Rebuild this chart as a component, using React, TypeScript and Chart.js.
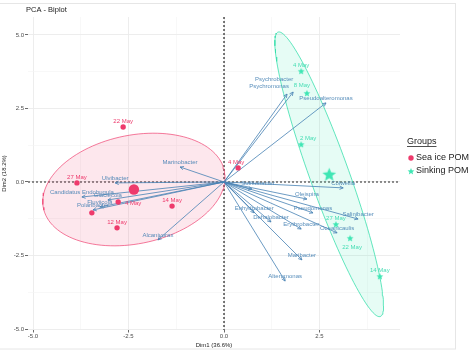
import React, { useEffect, useRef } from "react";
import { Chart, registerables } from "chart.js";

Chart.register(...registerables);

const FONT = "'Liberation Sans', Arial, Helvetica, sans-serif";

const chartTitle = "PCA - Biplot";
const xAxisTitle = "Dim1 (36.6%)";
const yAxisTitle = "Dim2 (18.2%)";
const legendTitle = "Groups";
const groupNames = ["Sea ice POM", "Sinking POM"];

// Individuals: Sea ice POM
const seaIceLabels = ["22 May", "27 May", "4 May", "", "14 May", "12 May", "4 May"];
const seaIceDim1 = [-2.64, -3.85, -2.77, -3.46, -1.36, -2.8, 0.37];
const seaIceDim2 = [1.87, -0.03, -0.68, -1.05, -0.82, -1.56, 0.48];

// Individuals: Sinking POM
const sinkingLabels = ["4 May", "8 May", "2 May", "27 May", "22 May", "14 May"];
const sinkingDim1 = [2.02, 2.17, 2.02, 2.93, 3.3, 4.08];
const sinkingDim2 = [3.78, 3.03, 1.29, -1.43, -1.9, -3.2];

// Variables (arrows)
const variableNames = [
  "Marinobacter", "Ulvibacter", "Candidatus Endobugula", "Glaciecola", "Polaribacter",
  "Fluviicola", "Alcanivorax", "Psychrobacter", "Psychromonas", "Pseudoalteromonas",
  "Sulfitobacter", "Colwellia", "Oleispira", "Pseudomonas", "Salinibacter",
  "Oceanicaulis", "Erythrobacter", "Dehalobacter", "Enhydrobacter", "Maribacter", "Alteromonas",
];
const variableDim1 = [-1.15, -2.85, -3.72, -3.04, -3.43, -3.25, -1.73, 1.65, 1.81, 2.67, 0.73, 3.12, 2.17, 2.33, 3.51, 2.96, 2.02, 1.23, 0.79, 2.04, 1.6];
const variableDim2 = [0.51, -0.03, -0.51, -0.61, -0.95, -0.85, -1.97, 2.99, 3.06, 2.69, -0.24, -0.2, -0.58, -1.05, -1.26, -1.73, -1.6, -1.36, -1.05, -2.65, -3.37];

// repelled variable label anchors (data units)
const repelledNames = ["Psychrobacter", "Psychromonas", "Sulfitobacter"];
const repelledDim1 = [1.31, 1.18, 0.89];
const repelledDim2 = [3.5, 3.27, -0.03];

// axis limits & ticks
const X_MIN = -5.131;
const X_MAX = 4.607;
const Y_MIN = -5.034;
const Y_MAX = 5.612;
const MAJOR_STEP = 2.5;
const MINOR_STEP = 1.25;
const ELLIPSE_LEVEL = 0.68;

// styles
const RED = "#EE3A6C";
const GREEN = "#3FE6B4";
const STEEL = "#4682B4";
const seaIceLabelSide = ["above", "above", "right", "above", "above", "above", "aboveL2"];
const sinkingLabelSide = ["above", "aboveLeft", "aboveRight", "above", "below", "above"];
const sideOffset: Record<string, [number, number]> = {
  above: [0, -6],
  aboveL2: [-2, -6],
  aboveLeft: [-5, -8],
  aboveRight: [7, -6],
  below: [2, 9],
  right: [15, 1],
};

const isMajor = (v: number) => Math.abs(v / MAJOR_STEP - Math.round(v / MAJOR_STEP)) < 1e-6;
const mean = (a: number[]) => a.reduce((s, v) => s + v, 0) / a.length;

function ellipseFrom(xs: number[], ys: number[], level: number, segments = 120) {
  const n = xs.length;
  const mx = mean(xs);
  const my = mean(ys);
  let sxx = 0, syy = 0, sxy = 0;
  for (let i = 0; i < n; i++) {
    sxx += (xs[i] - mx) ** 2;
    syy += (ys[i] - my) ** 2;
    sxy += (xs[i] - mx) * (ys[i] - my);
  }
  sxx /= n - 1; syy /= n - 1; sxy /= n - 1;
  const a = Math.sqrt(sxx);
  const b = sxy / a;
  const c = Math.sqrt(Math.max(syy - b * b, 0));
  const dfd = n - 1;
  const f = (dfd / 2) * (Math.pow(1 - level, -2 / dfd) - 1);
  const r = Math.sqrt(2 * f);
  const pts: { x: number; y: number }[] = [];
  for (let k = 0; k <= segments; k++) {
    const t = (2 * Math.PI * k) / segments;
    pts.push({ x: mx + r * a * Math.cos(t), y: my + r * (b * Math.cos(t) + c * Math.sin(t)) });
  }
  return pts;
}

function makeStar(rOuter: number, color: string) {
  const size = Math.ceil(rOuter * 2 + 2);
  const cv = document.createElement("canvas");
  cv.width = size;
  cv.height = size;
  const g = cv.getContext("2d")!;
  g.fillStyle = color;
  g.beginPath();
  for (let k = 0; k < 10; k++) {
    const rr = k % 2 === 0 ? rOuter : rOuter * 0.45;
    const ang = -Math.PI / 2 + (k * Math.PI) / 5;
    const px = size / 2 + rr * Math.cos(ang);
    const py = size / 2 + 0.6 + rr * Math.sin(ang);
    if (k === 0) g.moveTo(px, py);
    else g.lineTo(px, py);
  }
  g.closePath();
  g.fill();
  return cv;
}

function drawStarPath(ctx: CanvasRenderingContext2D, cx: number, cy: number, rOuter: number) {
  ctx.beginPath();
  for (let k = 0; k < 10; k++) {
    const rr = k % 2 === 0 ? rOuter : rOuter * 0.45;
    const ang = -Math.PI / 2 + (k * Math.PI) / 5;
    const px = cx + rr * Math.cos(ang);
    const py = cy + rr * Math.sin(ang);
    if (k === 0) ctx.moveTo(px, py);
    else ctx.lineTo(px, py);
  }
  ctx.closePath();
}

const biplotPlugin = {
  id: "biplotDecor",
  beforeDraw(chart: any) {
    const ctx = chart.ctx as CanvasRenderingContext2D;
    ctx.save();
    ctx.fillStyle = "#ffffff";
    ctx.fillRect(0, 0, chart.width, chart.height);
    ctx.strokeStyle = "#e6e6e6";
    ctx.lineWidth = 1;
    ctx.strokeRect(-1, 3.5, 456.5, 345.5);
    ctx.restore();
  },
  beforeDatasetsDraw(chart: any) {
    const ctx = chart.ctx as CanvasRenderingContext2D;
    const xs = chart.scales.x;
    const ys = chart.scales.y;
    const area = chart.chartArea;
    const x0 = xs.getPixelForValue(0);
    const y0 = ys.getPixelForValue(0);
    ctx.save();
    ctx.strokeStyle = "#222";
    ctx.lineWidth = 1.2;
    ctx.setLineDash([2, 2]);
    ctx.beginPath();
    ctx.moveTo(x0, area.top);
    ctx.lineTo(x0, area.bottom);
    ctx.moveTo(area.left, y0);
    ctx.lineTo(area.right, y0);
    ctx.stroke();
    ctx.restore();
  },
  afterDatasetsDraw(chart: any) {
    const ctx = chart.ctx as CanvasRenderingContext2D;
    const xs = chart.scales.x;
    const ys = chart.scales.y;
    const ox = xs.getPixelForValue(0);
    const oy = ys.getPixelForValue(0);
    ctx.save();
    // arrowheads
    ctx.strokeStyle = STEEL;
    ctx.lineWidth = 0.8;
    variableNames.forEach((_, i) => {
      const ex = xs.getPixelForValue(variableDim1[i]);
      const ey = ys.getPixelForValue(variableDim2[i]);
      const ang = Math.atan2(ey - oy, ex - ox);
      const L = 4;
      ctx.beginPath();
      ctx.moveTo(ex - L * Math.cos(ang - 0.45), ey - L * Math.sin(ang - 0.45));
      ctx.lineTo(ex, ey);
      ctx.lineTo(ex - L * Math.cos(ang + 0.45), ey - L * Math.sin(ang + 0.45));
      ctx.stroke();
    });
    // variable labels
    ctx.font = `6px ${FONT}`;
    ctx.textAlign = "center";
    ctx.textBaseline = "middle";
    ctx.fillStyle = "rgba(70,130,180,0.9)";
    variableNames.forEach((name, i) => {
      const ri = repelledNames.indexOf(name);
      if (ri >= 0) {
        ctx.fillText(name, xs.getPixelForValue(repelledDim1[ri]), ys.getPixelForValue(repelledDim2[ri]));
      } else {
        ctx.fillText(name, xs.getPixelForValue(variableDim1[i]), ys.getPixelForValue(variableDim2[i]) - 5);
      }
    });
    // individual labels
    ctx.fillStyle = RED;
    seaIceLabels.forEach((lab, i) => {
      if (!lab) return;
      const [dx, dy] = sideOffset[seaIceLabelSide[i]];
      ctx.fillText(lab, xs.getPixelForValue(seaIceDim1[i]) + dx, ys.getPixelForValue(seaIceDim2[i]) + dy);
    });
    ctx.fillStyle = "#46DDB4";
    sinkingLabels.forEach((lab, i) => {
      const [dx, dy] = sideOffset[sinkingLabelSide[i]];
      ctx.fillText(lab, xs.getPixelForValue(sinkingDim1[i]) + dx, ys.getPixelForValue(sinkingDim2[i]) + dy);
    });
    // title
    ctx.fillStyle = "#222";
    ctx.textAlign = "left";
    ctx.font = `7.5px ${FONT}`;
    ctx.fillText(chartTitle, 26, 9.5);
    // legend
    const lx = chart.chartArea.right + 7;
    ctx.font = `9px ${FONT}`;
    ctx.fillStyle = "#222";
    ctx.fillText(legendTitle, lx, 141.5);
    const tw = ctx.measureText(legendTitle).width;
    ctx.strokeStyle = "#222";
    ctx.lineWidth = 0.8;
    ctx.beginPath();
    ctx.moveTo(lx, 146.5);
    ctx.lineTo(lx + tw, 146.5);
    ctx.stroke();
    ctx.fillStyle = RED;
    ctx.beginPath();
    ctx.arc(lx + 4, 158, 2.7, 0, Math.PI * 2);
    ctx.fill();
    ctx.fillStyle = GREEN;
    drawStarPath(ctx, lx + 4, 171.5, 3.6);
    ctx.fill();
    ctx.fillStyle = "#222";
    ctx.fillText(groupNames[0], lx + 9, 158);
    ctx.fillText(groupNames[1], lx + 9, 171);
    ctx.restore();
  },
};

export default function App() {
  const canvasRef = useRef<HTMLCanvasElement | null>(null);

  useEffect(() => {
    const canvas = canvasRef.current;
    if (!canvas) return;
    const seaIcePts = seaIceDim1.map((x, i) => ({ x, y: seaIceDim2[i] }));
    const sinkingPts = sinkingDim1.map((x, i) => ({ x, y: sinkingDim2[i] }));
    const seaIceCenter = { x: mean(seaIceDim1), y: mean(seaIceDim2) };
    const sinkingCenter = { x: mean(sinkingDim1), y: mean(sinkingDim2) };
    const smallStar = makeStar(3.6, GREEN);
    const bigStar = makeStar(7.2, GREEN);

    const arrowSets = variableNames.map((name, i) => ({
      type: "line" as const,
      label: name,
      data: [{ x: 0, y: 0 }, { x: variableDim1[i], y: variableDim2[i] }],
      borderColor: STEEL,
      borderWidth: 0.8,
      pointRadius: 0,
      fill: false,
      tension: 0,
      order: 2,
    }));

    const chart = new Chart(canvas, {
      type: "scatter",
      data: {
        datasets: [
          {
            label: groupNames[0],
            data: seaIcePts,
            pointRadius: 2.7,
            backgroundColor: RED,
            borderWidth: 0,
            order: 0,
          },
          {
            label: groupNames[0] + " centroid",
            data: [seaIceCenter],
            pointRadius: 5.2,
            backgroundColor: RED,
            borderWidth: 0,
            order: 0,
          },
          {
            label: groupNames[1],
            data: sinkingPts,
            pointStyle: smallStar as any,
            backgroundColor: GREEN,
            borderWidth: 0,
            order: 0,
          },
          {
            label: groupNames[1] + " centroid",
            data: [sinkingCenter],
            pointStyle: bigStar as any,
            backgroundColor: GREEN,
            borderWidth: 0,
            order: 0,
          },
          ...arrowSets,
          {
            type: "line" as const,
            label: groupNames[0] + " ellipse",
            data: ellipseFrom(seaIceDim1, seaIceDim2, ELLIPSE_LEVEL),
            borderColor: "rgba(238,58,108,0.75)",
            backgroundColor: "rgba(238,58,108,0.12)",
            borderWidth: 0.9,
            pointRadius: 0,
            fill: "shape",
            tension: 0,
            order: 3,
          },
          {
            type: "line" as const,
            label: groupNames[1] + " ellipse",
            data: ellipseFrom(sinkingDim1, sinkingDim2, ELLIPSE_LEVEL),
            borderColor: "rgba(50,222,170,0.85)",
            backgroundColor: "rgba(63,230,180,0.13)",
            borderWidth: 0.9,
            pointRadius: 0,
            fill: "shape",
            tension: 0,
            order: 3,
          },
        ] as any,
      },
      options: {
        responsive: false,
        animation: false,
        devicePixelRatio: 1,
        events: [],
        layout: { padding: { top: 17, right: 74, bottom: 0, left: 0 } },
        plugins: {
          legend: { display: false },
          tooltip: { enabled: false },
          title: { display: false },
        },
        scales: {
          x: {
            type: "linear",
            min: X_MIN,
            max: X_MAX,
            afterFit: (s: any) => {
              s.height = 24;
            },
            border: { display: false },
            grid: {
              color: (c: any) => (isMajor(c.tick.value) ? "#ebebeb" : "#f4f4f4"),
              lineWidth: (c: any) => (isMajor(c.tick.value) ? 0.9 : 0.6),
              tickColor: (c: any) => (isMajor(c.tick.value) ? "#444" : "rgba(0,0,0,0)"),
              tickLength: 2.5,
              tickWidth: 0.8,
            },
            ticks: {
              stepSize: MINOR_STEP,
              includeBounds: false,
              autoSkip: false,
              maxRotation: 0,
              maxTicksLimit: 30,
              padding: 0,
              color: "#4d4d4d",
              font: { size: 6, family: FONT },
              callback: (v: any) => (isMajor(Number(v)) ? Number(v).toFixed(1) : ""),
            },
            title: {
              display: true,
              text: xAxisTitle,
              color: "#222",
              font: { size: 6, family: FONT },
              padding: { top: 0, bottom: 5 },
            },
          },
          y: {
            type: "linear",
            min: Y_MIN,
            max: Y_MAX,
            afterFit: (s: any) => {
              s.width = 28;
            },
            border: { display: false },
            grid: {
              color: (c: any) => (isMajor(c.tick.value) ? "#ebebeb" : "#f4f4f4"),
              lineWidth: (c: any) => (isMajor(c.tick.value) ? 0.9 : 0.6),
              tickColor: (c: any) => (isMajor(c.tick.value) ? "#444" : "rgba(0,0,0,0)"),
              tickLength: 3,
              tickWidth: 0.8,
            },
            ticks: {
              stepSize: MINOR_STEP,
              includeBounds: false,
              autoSkip: false,
              maxTicksLimit: 30,
              padding: 1,
              color: "#4d4d4d",
              font: { size: 6, family: FONT },
              callback: (v: any) => (isMajor(Number(v)) ? Number(v).toFixed(1) : ""),
            },
            title: {
              display: true,
              text: yAxisTitle,
              color: "#222",
              font: { size: 6, family: FONT },
              padding: { top: 1, bottom: 1 },
            },
          },
        },
      },
      plugins: [biplotPlugin],
    });
    return () => chart.destroy();
  }, []);

  return (
    <div style={{ position: "absolute", left: 0, top: 0, width: 474, height: 354, background: "#fff" }}>
      <canvas ref={canvasRef} width={474} height={354} style={{ display: "block" }} />
    </div>
  );
}
